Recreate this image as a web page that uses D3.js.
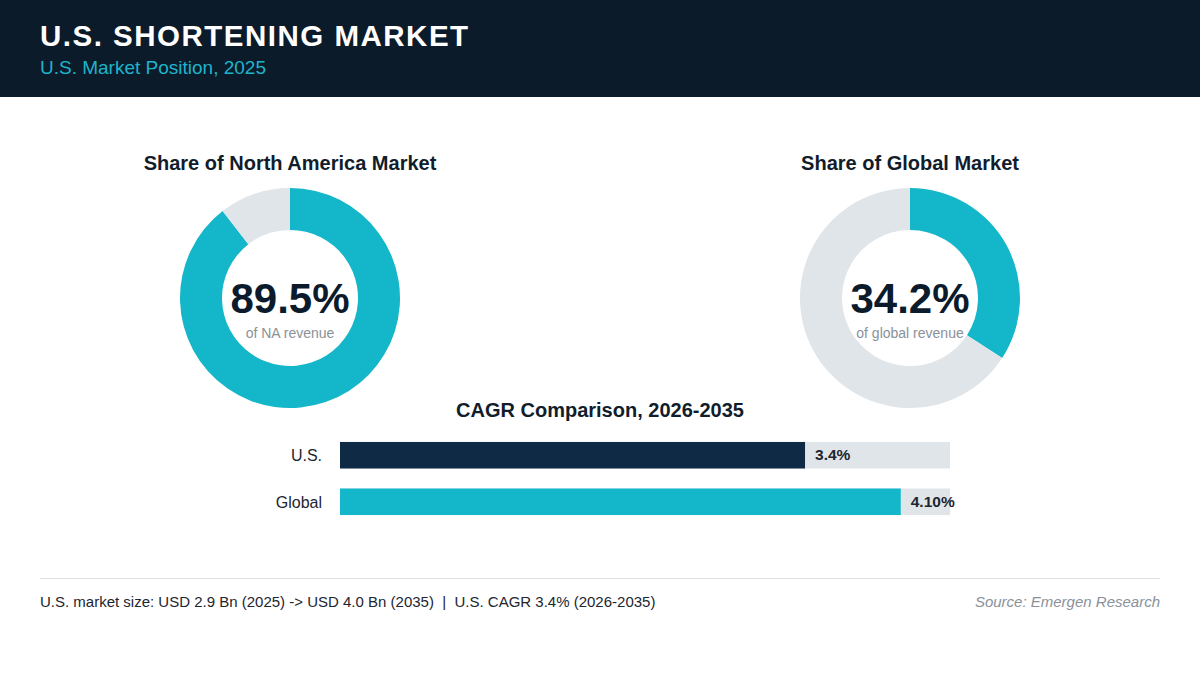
<!DOCTYPE html>
<html><head><meta charset="utf-8">
<script src="https://cdn.jsdelivr.net/npm/d3@7"></script>
<style>body{margin:0;background:#fff;}svg{display:block;font-family:"Liberation Sans",Arial,sans-serif;}</style>
</head><body><svg id="c" width="1200" height="675"></svg>
<script>
const titleText = "U.S. SHORTENING MARKET";
const subtitleText = "U.S. Market Position, 2025";
const donutTitles = ["Share of North America Market", "Share of Global Market"];
const donutValues = [89.5, 34.2];
const donutLabels = ["89.5%", "34.2%"];
const donutSubs = ["of NA revenue", "of global revenue"];
const barCategories = ["U.S.", "Global"];
const barValues = [3.4, 4.1];
const barLabels = ["3.4%", "4.10%"];
const barTitle = "CAGR Comparison, 2026-2035";
const footerLeft = "U.S. market size: USD 2.9 Bn (2025) -> USD 4.0 Bn (2035)  |  U.S. CAGR 3.4% (2026-2035)";
const footerRight = "Source: Emergen Research";

const teal = "#14b6ca", grey = "#e0e5e9", navy = "#0f2a44", dark = "#0b1b2b";
const svg = d3.select("#c");

svg.append("rect").attr("x",0).attr("y",0).attr("width",1200).attr("height",97).attr("fill","#0b1b2a");
svg.append("text").attr("x",40).attr("y",46).attr("fill","#fff").attr("font-size",29.5).attr("font-weight","bold").attr("letter-spacing",1.5).text(titleText);
svg.append("text").attr("x",40).attr("y",74).attr("fill","#1eb4cc").attr("font-size",19).text(subtitleText);

const centers = [290, 910];
const pie = d3.pie().sort(null).value(d=>d);
const arc = d3.arc().innerRadius(68).outerRadius(110);
donutValues.forEach((v,i)=>{
  const g = svg.append("g").attr("transform",`translate(${centers[i]},298)`);
  g.selectAll("path").data(pie([v,100-v])).join("path").attr("d",arc).attr("fill",(d,j)=>j===0?teal:grey);
  svg.append("text").attr("x",centers[i]).attr("y",170).attr("text-anchor","middle").attr("font-size",20).attr("font-weight","bold").attr("fill","#111d2b").text(donutTitles[i]);
  g.append("text").attr("y",15).attr("text-anchor","middle").attr("font-size",42).attr("font-weight","bold").attr("fill",dark).text(donutLabels[i]);
  g.append("text").attr("y",40).attr("text-anchor","middle").attr("font-size",14).attr("fill","#8a9199").text(donutSubs[i]);
});

svg.append("text").attr("x",600).attr("y",417).attr("text-anchor","middle").attr("font-size",20).attr("font-weight","bold").attr("fill","#111d2b").text(barTitle);
const x = d3.scaleLinear().domain([0,4.46]).range([340,950]);
const y = d3.scaleBand().domain(barCategories).range([428,529]).paddingInner(0.43).paddingOuter(0.3);
const rows = svg.append("g").selectAll("g").data(barCategories).join("g");
rows.append("rect").attr("x",x(0)).attr("y",d=>y(d)).attr("width",x.range()[1]-x(0)).attr("height",y.bandwidth()).attr("fill",grey);
rows.append("rect").attr("x",x(0)).attr("y",d=>y(d)).attr("width",(d,i)=>x(barValues[i])-x(0)).attr("height",y.bandwidth()).attr("fill",(d,i)=>i===0?navy:teal);
rows.append("text").attr("x",322).attr("y",d=>y(d)+y.bandwidth()/2+6).attr("text-anchor","end").attr("font-size",16).attr("fill","#1c2530").text(d=>d);
rows.append("text").attr("x",(d,i)=>x(barValues[i])+10).attr("y",d=>y(d)+y.bandwidth()/2+5).attr("font-size",15.5).attr("font-weight","bold").attr("fill","#1c2530").text((d,i)=>barLabels[i]);

svg.append("line").attr("x1",40).attr("x2",1160).attr("y1",578.5).attr("y2",578.5).attr("stroke","#dcdfe3");
svg.append("text").attr("x",40).attr("y",607).attr("font-size",15).attr("fill","#1c2530").attr("xml:space","preserve").style("white-space","pre").text(footerLeft);
svg.append("text").attr("x",1160).attr("y",607).attr("text-anchor","end").attr("font-size",15).attr("font-style","italic").attr("fill","#8a9199").text(footerRight);
</script></body></html>
